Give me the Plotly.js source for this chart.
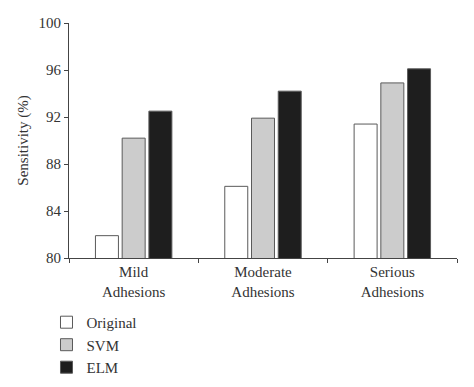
<!DOCTYPE html>
<html>
<head>
<meta charset="utf-8">
<script src="https://cdn.plot.ly/plotly-3.0.1.min.js"></script>
<style>html,body{margin:0;padding:0;background:#fff;}#chart{width:474px;height:387px;}</style>
</head>
<body>
<div id="chart"></div>
<script>
const categories = ["Mild<br>Adhesions", "Moderate<br>Adhesions", "Serious<br>Adhesions"];
const seriesNames = ["Original", "SVM", "ELM"];
const originalValues = [81.9, 86.1, 91.4];
const svmValues = [90.2, 91.9, 94.9];
const elmValues = [92.5, 94.2, 96.1];
const yTickValues = [80, 84, 88, 92, 96, 100];

const fills = ["#ffffff", "#cccccc", "#1e1e1e"];
const allValues = [originalValues, svmValues, elmValues];

const traces = allValues.map((vals, i) => ({
  type: "bar",
  name: seriesNames[i],
  x: categories,
  y: vals,
  marker: { color: fills[i], line: { color: "#5a5a5a", width: 1 } },
  hoverinfo: "none"
}));

const serif = "Liberation Serif, Times New Roman, serif";
const txt = "#333333";
const layout = {
  width: 474, height: 387,
  margin: { l: 69, r: 17, t: 23, b: 129, autoexpand: false },
  paper_bgcolor: "#ffffff", plot_bgcolor: "#ffffff",
  barmode: "group", bargap: 0.38, bargroupgap: 0.14,
  font: { family: serif, size: 15, color: txt },
  xaxis: {
    showline: true, linecolor: "#444444", linewidth: 1,
    ticks: "outside", tickson: "boundaries", ticklen: 4, tickcolor: "#444444",
    showgrid: false, zeroline: false,
    tickfont: { family: serif, size: 15, color: txt }
  },
  yaxis: {
    range: [80, 100], tickvals: yTickValues, ticktext: yTickValues.map(String),
    showline: true, linecolor: "#444444", linewidth: 1,
    ticks: "outside", ticklen: 4, tickcolor: "#444444",
    showgrid: false, zeroline: false,
    tickfont: { family: serif, size: 15, color: txt },
    title: { text: "Sensitivity (%)", font: { family: serif, size: 15, color: txt }, standoff: 6 }
  },
  showlegend: true,
  legend: {
    orientation: "v", x: -0.058, xanchor: "left", y: -0.204, yanchor: "top",
    font: { family: serif, size: 15, color: txt },
    traceorder: "normal", itemwidth: 30, bgcolor: "rgba(0,0,0,0)"
  }
};

Plotly.newPlot("chart", traces, layout, { displayModeBar: false, staticPlot: true });
</script>
</body>
</html>
